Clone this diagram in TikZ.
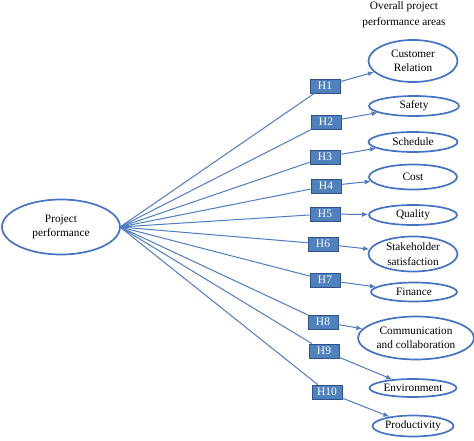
\documentclass[tikz,border=0pt]{standalone}
\usepackage{fontspec}
\setmainfont{Liberation Serif}
\usetikzlibrary{shapes.geometric,arrows.meta}
\definecolor{elblue}{HTML}{4472C4}
\definecolor{lnblue}{HTML}{4F7CC0}
\definecolor{boxfill}{HTML}{4F81BD}
\definecolor{boxdraw}{HTML}{2F528F}
\tikzset{
  area/.style={ellipse, draw=elblue, line width=1.7pt, inner sep=0pt, align=center,
    font=\fontsize{11.3}{14.5}\selectfont},
  hbox/.style={rectangle, draw=boxdraw, fill=boxfill, line width=0.7pt, minimum width=30pt,
    minimum height=14pt, inner sep=0pt, text=white, font=\fontsize{11.5}{12}\selectfont},
  link/.style={draw=lnblue, line width=1pt},
  arr/.style={link, -{Latex[length=6pt,width=5pt]}}
}
\begin{document}
\begin{tikzpicture}[x=1pt,y=-1pt]
\useasboundingbox (0,0) rectangle (474,441);
\node[area, minimum width=118pt, minimum height=55pt] (pp) at (61,227) {Project\\performance};
\coordinate (o) at (120,227);
\node[align=center, font=\fontsize{11.3}{15.5}\selectfont] (title) at (404,15) {Overall project\\performance areas};

\node[area, minimum width=89pt, minimum height=42pt] (a1) at (413,61) {Customer\\Relation};
\node[area, minimum width=90pt, minimum height=20pt] (a2) at (414,106) {Safety};
\node[area, minimum width=89pt, minimum height=20pt] (a3) at (413,142) {Schedule};
\node[area, minimum width=88pt, minimum height=25pt] (a4) at (413,177) {Cost};
\node[area, minimum width=88pt, minimum height=20pt] (a5) at (413,215) {Quality};
\node[area, minimum width=89pt, minimum height=35pt] (a6) at (413,254) {Stakeholder\\satisfaction};
\node[area, minimum width=86pt, minimum height=19pt] (a7) at (414,292) {Finance};
\node[area, minimum width=116pt, minimum height=43pt] (a8) at (416,338) {Communication\\and collaboration};
\node[area, minimum width=87pt, minimum height=18pt] (a9) at (413,388) {Environment};
\node[area, minimum width=81pt, minimum height=21pt] (a10) at (413,426) {Productivity};

\node[hbox] (h1) at (325,86) {H1};
\node[hbox] (h2) at (326,122) {H2};
\node[hbox] (h3) at (325,157) {H3};
\node[hbox] (h4) at (326,186) {H4};
\node[hbox] (h5) at (325,214) {H5};
\node[hbox] (h6) at (323,244) {H6};
\node[hbox] (h7) at (325,280) {H7};
\node[hbox] (h8) at (323,322) {H8};
\node[hbox] (h9) at (324,351) {H9};
\node[hbox] (h10) at (327,392) {H10};

\foreach \i in {1,...,10}{
  \draw[link] (o) -- (h\i);
  \draw[arr] (h\i) -- (a\i);
}
\end{tikzpicture}
\end{document}
